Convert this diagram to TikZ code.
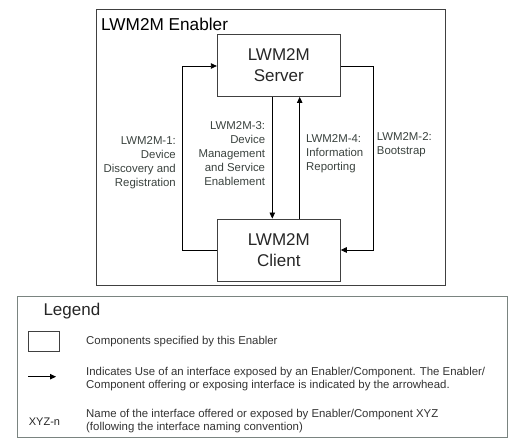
\documentclass[tikz,border=0pt]{standalone}
\usepackage{fontspec}
\setmainfont{Liberation Sans}
\usetikzlibrary{arrows.meta}
\definecolor{txt}{HTML}{3A423E}
\definecolor{lgd}{HTML}{7A8480}
\definecolor{ln}{HTML}{404040}
\tikzset{
  comp/.style={draw=ln, line width=0.9pt, minimum width=123pt, minimum height=62pt, inner sep=0pt, align=center, font=\fontsize{17}{20}\selectfont, text=black!85},
  conn/.style={draw=black, line width=0.8pt, -{Triangle[length=6pt,width=5.5pt]}},
  lbl/.style={font=\fontsize{11.4}{14}\selectfont, text=txt, inner sep=0pt},
  ltxt/.style={font=\fontsize{11.4}{13.7}\selectfont, text=black!80, inner sep=0pt, anchor=west, align=left},
}
\begin{document}
\begin{tikzpicture}[x=1pt,y=-1pt]
\useasboundingbox (0,0) rectangle (525,446);
% enabler box
\node[draw=ln, line width=0.9pt, minimum width=349.6pt, minimum height=275.7pt, inner sep=0pt, anchor=north west] (enab) at (95.7,9.3) {};
\node[font=\fontsize{17.2}{20}\selectfont, anchor=west, inner sep=0pt] (title) at (101,24.3) {LWM2M Enabler};
% components
\node[comp] (server) at (278.8,65.5) {LWM2M\\[1pt]Server};
\node[comp] (client) at (278.8,250) {LWM2M\\[1pt]Client};
\coordinate (l1) at (182.3,250);
\coordinate (l2) at (182.3,66);
\coordinate (r1) at (373.7,66);
\coordinate (r2) at (373.7,250);
\draw[conn] (client.west |- l1) -- (l1) -- (l2) -- (server.west |- l2);
\draw[conn] (server.east |- r1) -- (r1) -- (r2) -- (client.east |- r2);
\draw[conn] (server.south -| 272.3,0) -- (client.north -| 272.3,0);
\draw[conn] (client.north -| 299.7,0) -- (server.south -| 299.7,0);
% labels
\node[lbl, align=right, anchor=north east] (lab1) at (176,136) {LWM2M-1:\\Device\\Discovery and\\Registration};
\node[lbl, align=right, anchor=north east] (lab3) at (265.3,121.5) {LWM2M-3:\\Device\\Management\\and Service\\Enablement};
\node[lbl, align=left, anchor=north west] (lab4) at (306,134) {LWM2M-4:\\Information\\Reporting};
\node[lbl, align=left, anchor=north west] (lab2) at (376.7,132.5) {LWM2M-2:\\Bootstrap};
% legend
\node[draw=lgd, line width=0.9pt, minimum width=490pt, minimum height=141pt, inner sep=0pt, anchor=north west] (legend) at (16.7,295.7) {};
\node[font=\fontsize{17}{20}\selectfont, anchor=west, inner sep=0pt, text=black!85] (legtitle) at (43.3,311.5) {Legend};
\node[draw=ln, line width=0.8pt, minimum width=31pt, minimum height=20.7pt, inner sep=0pt] (sq) at (43.8,341.3) {};
\node[ltxt] (t1) at (86,341.7) {Components specified by this Enabler};
\coordinate (a1) at (28.3,376.7);
\coordinate (a2) at (56,376.7);
\draw[conn] (a1) -- (a2);
\node[ltxt] (t2) at (86,379.2) {Indicates Use of an interface exposed by an Enabler/Component. The Enabler/\\Component offering or exposing interface is indicated by the arrowhead.};
\node[font=\fontsize{11}{13}\selectfont, inner sep=0pt, text=black!85] (xyz) at (44.5,421.7) {XYZ-n};
\node[ltxt] (t3) at (86,421) {Name of the interface offered or exposed by Enabler/Component XYZ\\(following the interface naming convention)};
\end{tikzpicture}
\end{document}
